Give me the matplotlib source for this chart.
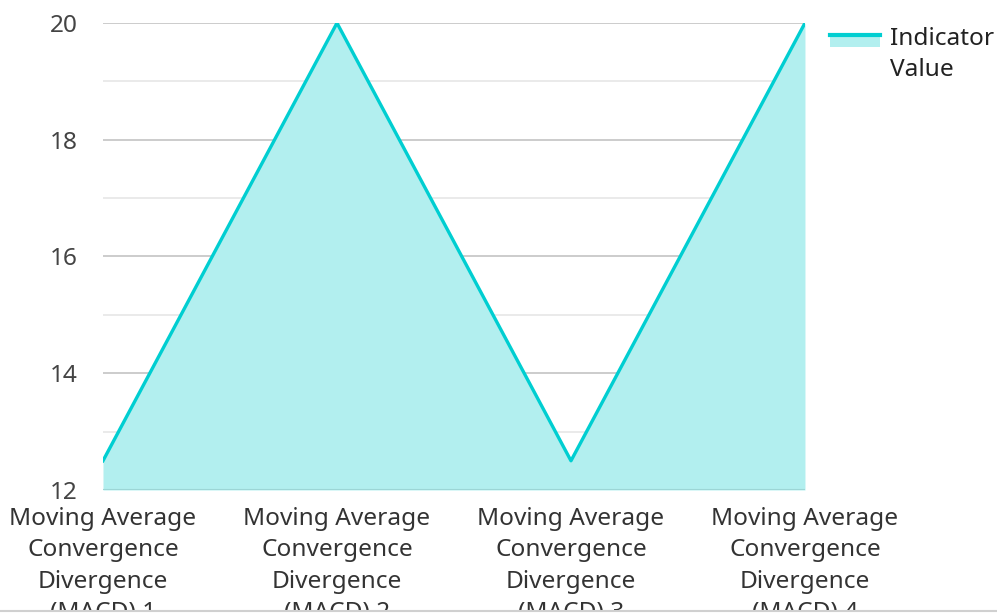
import matplotlib.pyplot as plt
from matplotlib.lines import Line2D
from matplotlib.patches import Rectangle

plt.rcParams['font.family'] = ['Noto Sans', 'DejaVu Sans']

labels = ['Moving Average\nConvergence\nDivergence\n(MACD) 1',
          'Moving Average\nConvergence\nDivergence\n(MACD) 2',
          'Moving Average\nConvergence\nDivergence\n(MACD) 3',
          'Moving Average\nConvergence\nDivergence\n(MACD) 4']
values = [12.5, 20, 12.5, 20]
series_name = 'Indicator\nValue'

line_color = '#00CED1'
fill_color = '#B2EFEF'
fs = 17.6

fig = plt.figure(figsize=(9.97, 6.15), dpi=100)
ax = fig.add_axes([0.1033, 0.2033, 0.7041, 0.7593])

x = list(range(len(values)))
ax.fill_between(x, values, 12, color=fill_color, linewidth=0, zorder=2)
ax.plot(x, values, color=line_color, linewidth=2.4, zorder=3)

ax.set_xlim(0, 3)
ax.set_ylim(12, 20)
ax.set_yticks([12, 14, 16, 18, 20])
ax.set_yticks([13, 15, 17, 19], minor=True)
ax.grid(axis='y', which='major', color='#c8c8c8', linewidth=1.3, zorder=1)
ax.grid(axis='y', which='minor', color='#e8e8e8', linewidth=1.3, zorder=1)
ax.set_axisbelow(True)
for s in ax.spines.values():
    s.set_visible(False)

ax.set_xticks(x)
ax.set_xticklabels(labels, fontsize=fs, color='#333333', linespacing=1.42)
ax.tick_params(axis='x', length=0, pad=12)
ax.tick_params(axis='y', which='both', length=0, pad=18, labelsize=fs, labelcolor='#444444')

# the 12 gridline shows through the fill
ax.axhline(12, color='#9cd6d6', linewidth=1.5, zorder=2.5)

# legend: line over a fill swatch, text beside it
fig.add_artist(Rectangle((830 / 997, 1 - 47 / 615), 50 / 997, 14 / 615,
                         transform=fig.transFigure, facecolor=fill_color,
                         edgecolor='none'))
fig.add_artist(Line2D([830 / 997, 880 / 997], [1 - 35 / 615, 1 - 35 / 615],
                      transform=fig.transFigure, color=line_color, linewidth=3))
fig.text(890 / 997, 1 - 54.5 / 615, series_name, fontsize=fs, color='#222222',
         ha='left', va='center', linespacing=1.42)

# bottom border of the chart area
fig.add_artist(Rectangle((0, 0), 1, 0.0049, transform=fig.transFigure,
                         facecolor='white', edgecolor='none', zorder=10))
fig.add_artist(Line2D([0, 1], [0.0057, 0.0057], transform=fig.transFigure,
                      color='#d0d0d0', linewidth=1.5, zorder=11))

fig.savefig('out.png', dpi=100)
